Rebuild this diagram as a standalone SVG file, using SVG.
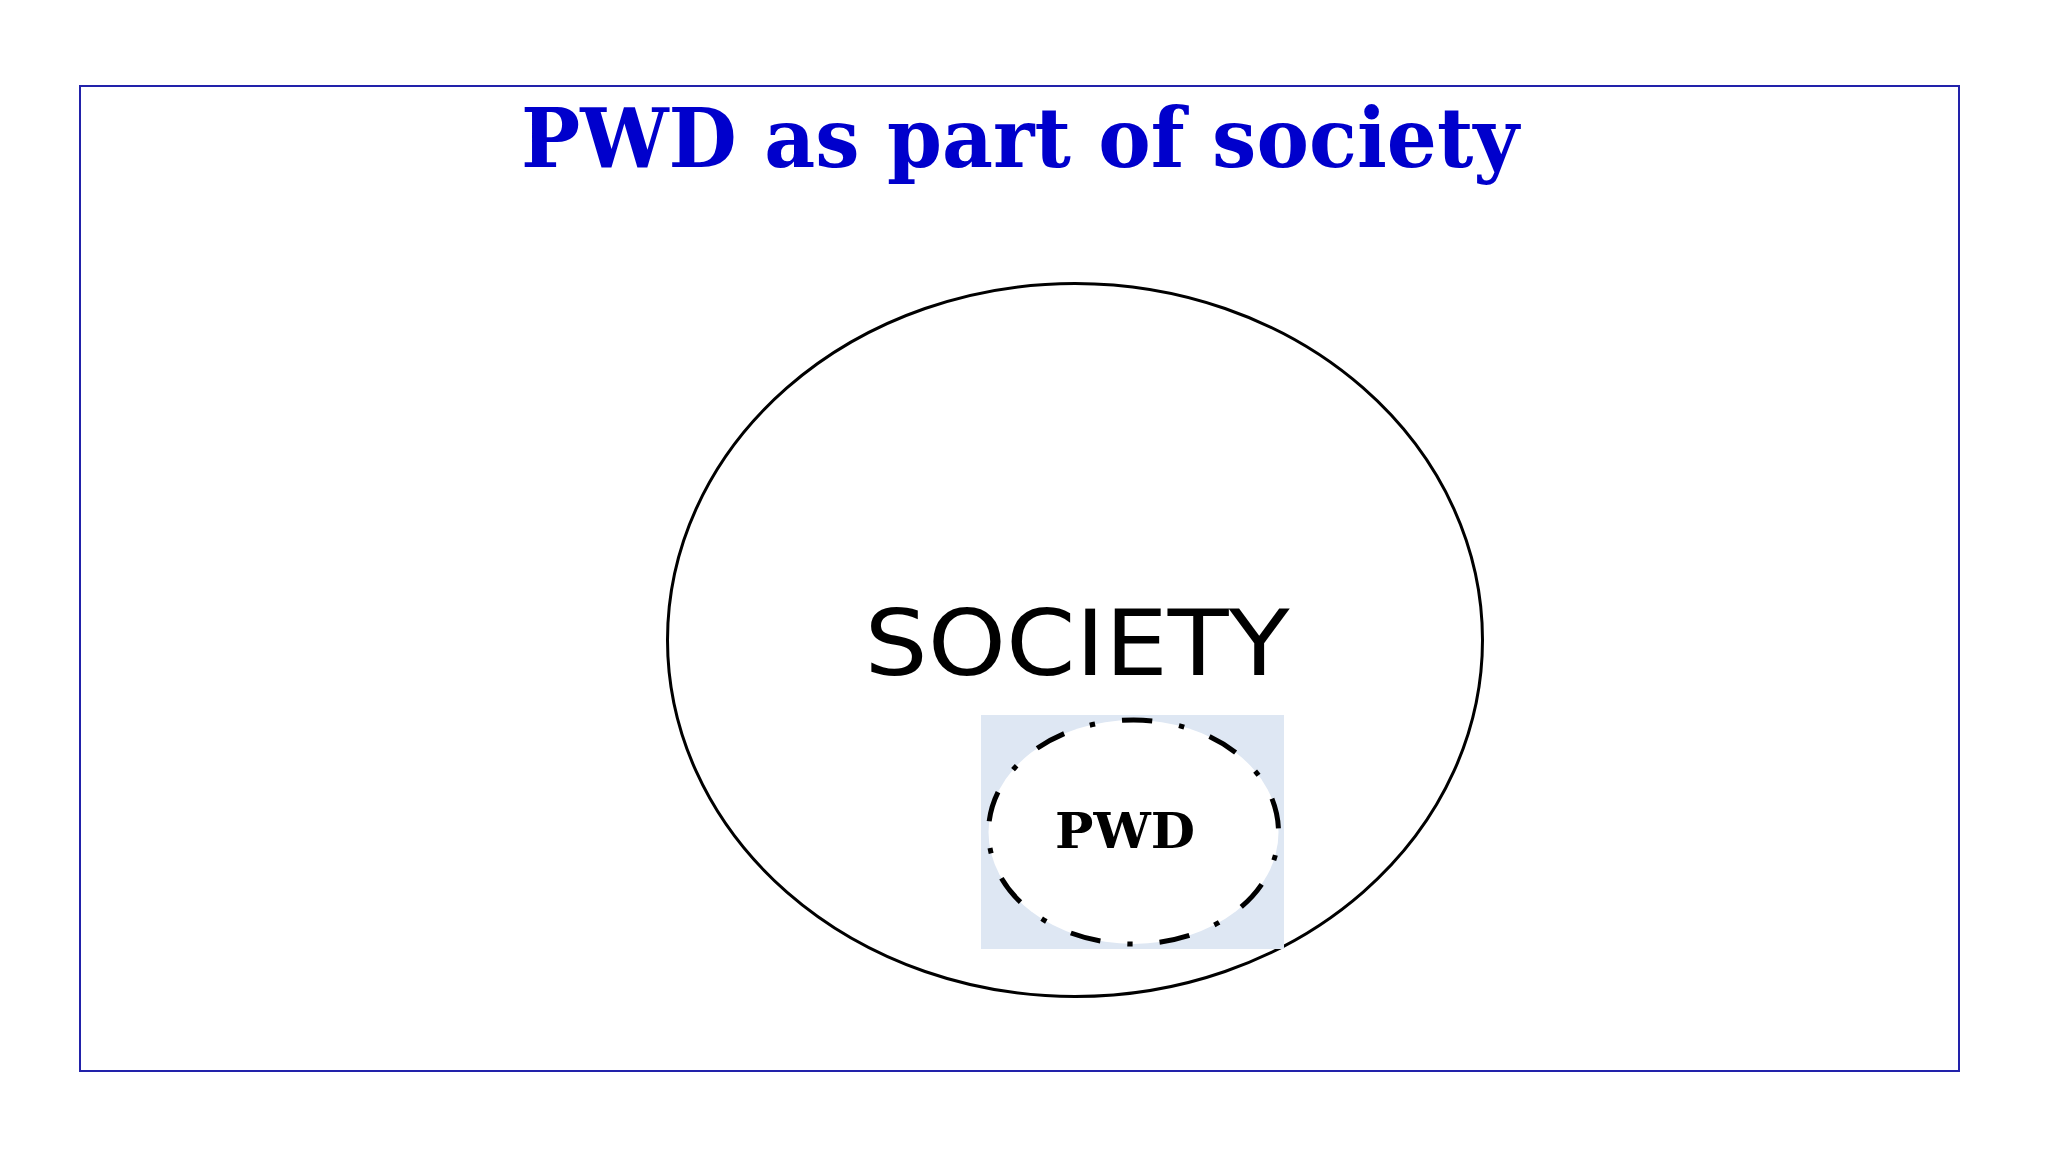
<svg xmlns="http://www.w3.org/2000/svg" width="2048" height="1152" viewBox="0 0 2048 1152">
<style>
.frame{fill:none;stroke:#2222aa;stroke-width:2}
.title{font-family:"DejaVu Serif","Liberation Serif",serif;font-weight:bold;font-size:82px;fill:#0000cc}
.society{font-family:"DejaVu Sans","Verdana",sans-serif;font-size:90px;fill:#000}
.pwd{font-family:"DejaVu Serif","Liberation Serif",serif;font-weight:bold;font-size:48px;fill:#000}
</style>
<rect width="2048" height="1152" fill="#fff"/>
<rect class="frame" x="80" y="86" width="1879" height="985"/>
<g id="title">
<text class="title" x="1020" y="167" text-anchor="middle" textLength="998" lengthAdjust="spacingAndGlyphs">PWD as part of society</text>
</g>
<g id="society">
<ellipse cx="1075" cy="640" rx="407.5" ry="356.5" fill="none" stroke="#000" stroke-width="3"/>
<text class="society" x="1077" y="675" text-anchor="middle" textLength="425" lengthAdjust="spacingAndGlyphs">SOCIETY</text>
</g>
<g id="pwd">
<rect x="981" y="715" width="303" height="234" fill="#dee7f3"/>
<ellipse cx="1133.5" cy="832" rx="145" ry="112" fill="#fff" stroke="#000" stroke-width="5" pathLength="900" stroke-dasharray="34 30 6 30" stroke-dashoffset="38"/>
<text class="pwd" x="1125" y="848" text-anchor="middle" textLength="140" lengthAdjust="spacingAndGlyphs">PWD</text>
</g>
<g id="connectors"></g>
</svg>
